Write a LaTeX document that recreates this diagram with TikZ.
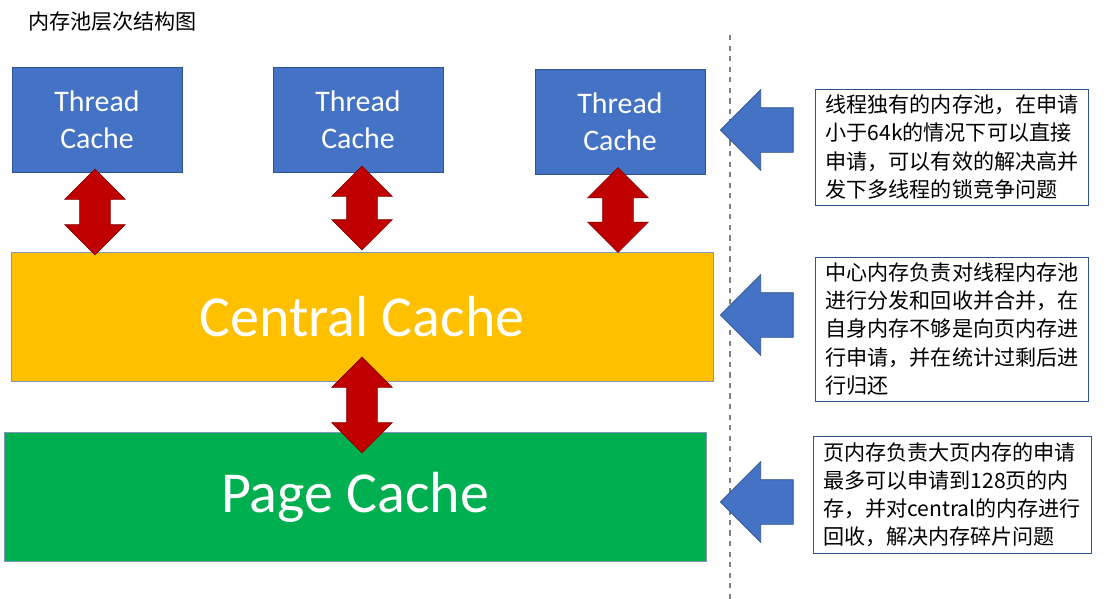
\documentclass[tikz,border=0pt]{standalone}
\usepackage{fontspec}
\setmainfont{Carlito}
\newfontfamily\cjk{Noto Sans CJK SC}
\usetikzlibrary{shapes.arrows}

\definecolor{tblue}{HTML}{4472C4}
\definecolor{tborder}{HTML}{2F528F}
\definecolor{cyellow}{HTML}{FFC000}
\definecolor{pgreen}{HTML}{00B050}
\definecolor{ared}{HTML}{C00000}

\tikzset{
  tcache/.style={draw=tborder, fill=tblue, text=white, align=center,
    minimum width=3.4cm, minimum height=2.1cm, font=\fontsize{17}{21}\selectfont},
  bigbox/.style={draw=tborder!60, minimum width=14.04cm, minimum height=2.58cm,
    text=white, font=\fontsize{33}{37}\selectfont},
  updown/.style={double arrow, draw=ared!70!black, fill=ared, rotate=90,
    minimum width=1.2cm, double arrow head extend=0.3cm, inner xsep=0pt, inner ysep=0.3cm},
  pointer/.style={single arrow, draw=tborder, fill=tblue, shape border rotate=180,
    minimum width=1.6cm, minimum height=1.46cm, single arrow head extend=0.36cm,
    inner xsep=0pt, inner ysep=0.44cm},
  note/.style={draw=tborder, fill=white, align=left,
    font=\cjk\fontsize{12}{16}\selectfont, inner xsep=0.2cm, inner ysep=0.12cm},
}

\begin{document}
\begin{tikzpicture}[x=0.02cm, y=-0.02cm]
    \useasboundingbox (0,0) rectangle (1117,599);

    \node[anchor=west, font=\cjk\fontsize{12}{14}\selectfont] (title) at (22,22) {内存池层次结构图};

    \node[tcache] (t1) at (97,120) {Thread\\Cache};
    \node[tcache] (t2) at (358,120) {Thread\\Cache};
    \node[tcache] (t3) at (620,122) {Thread\\Cache};

    \node[bigbox, fill=cyellow] (central) at (362,317) {Central Cache};
    \node[bigbox, fill=pgreen] (page) at (355,497) {Page Cache};

    \node[updown, minimum height=1.72cm] (a1) at (95,212) {};
    \node[updown, minimum height=1.68cm] (a2) at (362,208) {};
    \node[updown, minimum height=1.7cm] (a3) at (618,210) {};
    \node[updown, minimum height=1.92cm] (a4) at (362,405) {};

    \coordinate (top) at (730,35);
    \coordinate (bottom) at (730,599);
    \draw[gray, dashed, thick] (top) -- (bottom);

    \node[note] (n1) at (952,147) {线程独有的内存池，在申请\\小于64k的情况下可以直接\\申请，可以有效的解决高并\\发下多线程的锁竞争问题};
    \node[note] (n2) at (952,329) {中心内存负责对线程内存池\\进行分发和回收并合并，在\\自身内存不够是向页内存进\\行申请，并在统计过剩后进\\行归还};
    \node[note] (n3) at (952,495) {页内存负责大页内存的申请\\最多可以申请到128页的内\\存，并对central的内存进行\\回收，解决内存碎片问题};

    \node[pointer] (p1) at (768,130) {};
    \node[pointer] (p2) at (768,315) {};
    \node[pointer] (p3) at (768,502) {};
\end{tikzpicture}
\end{document}
